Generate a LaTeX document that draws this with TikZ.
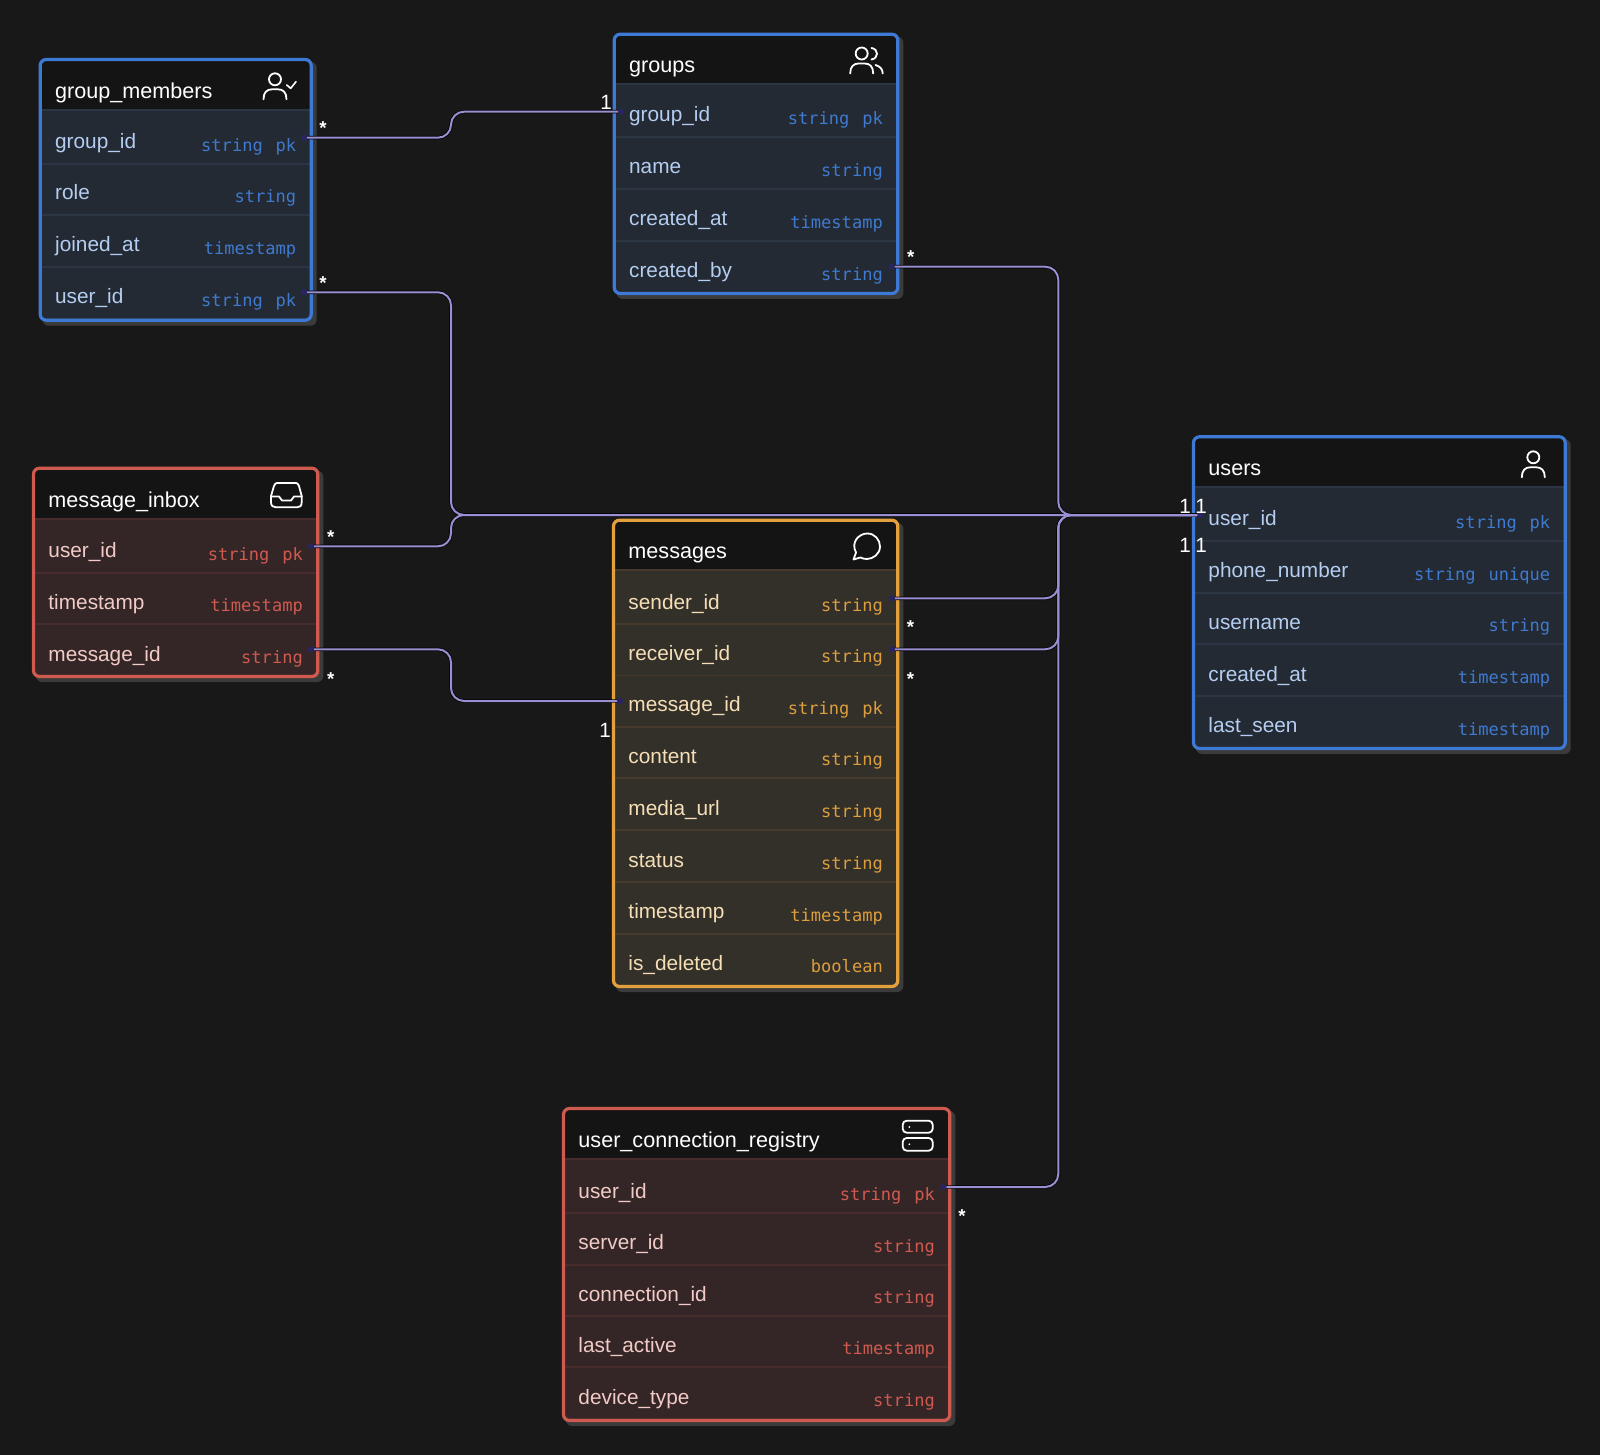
\documentclass[tikz,border=0pt]{standalone}
\usepackage{fontspec}
\setmainfont{Liberation Sans}
\newfontfamily\typefont{DejaVu Sans Mono}
\definecolor{bgc}{HTML}{181818}
\definecolor{hdrc}{HTML}{141414}
\definecolor{shadowc}{HTML}{3B3B3B}
\definecolor{bdrb}{HTML}{3D7AD6}
\definecolor{bodyb}{HTML}{232A33}
\definecolor{lineb}{HTML}{2C3543}
\definecolor{fldb}{HTML}{B4CDF0}
\definecolor{typb}{HTML}{3F7AD0}
\definecolor{bdrr}{HTML}{CF5A50}
\definecolor{bodyr}{HTML}{342626}
\definecolor{liner}{HTML}{472C2C}
\definecolor{fldr}{HTML}{F2CBC6}
\definecolor{typr}{HTML}{D05A50}
\definecolor{bdra}{HTML}{E3A03C}
\definecolor{bodya}{HTML}{33302A}
\definecolor{linea}{HTML}{47392B}
\definecolor{flda}{HTML}{F6DFB6}
\definecolor{typa}{HTML}{DD9E3E}
\definecolor{relc}{HTML}{9B8FD3}
\definecolor{dotc}{HTML}{2A2466}
\tikzset{
  titletxt/.style={anchor=base west,inner sep=0pt,text=white,font=\fontsize{16.2}{19}\selectfont},
  fieldtxt/.style={anchor=base west,inner sep=0pt,font=\fontsize{15.6}{18}\selectfont},
  typetxt/.style={anchor=base east,inner sep=0pt,font=\fontsize{12.8}{15}\typefont},
  ico/.style={draw=white,line width=1.35pt,line cap=round,line join=round},
  port/.style={circle,fill=dotc,inner sep=0pt,minimum size=4.5pt,outer sep=0pt},
  relbase/.style={line width=1.5pt,rounded corners=9.75pt},
  relcase/.style={relbase,draw=black!90!bgc,line width=2.6pt},
  relline/.style={relbase,draw=relc},
  starlbl/.style={inner sep=0pt,text=white,font=\fontsize{14}{16}\bfseries\selectfont},
  onelbl/.style={inner sep=0pt,text=white,font=\fontsize{15.5}{18}\selectfont},
}
% id, x1, x2, ytop, ybot, yhdr, scheme, title, rows
\newcommand\erbox[9]{
  \fill[shadowc,rounded corners=4.5pt] (#2+2.5,#4+2.5) rectangle (#3+5.5,#5+5.5);
  \begin{scope}
    \clip[rounded corners=4.5pt] (#2,#4) rectangle (#3,#5);
    \fill[hdrc] (#2,#4) rectangle (#3,#6);
    \fill[body#7] (#2,#6) rectangle (#3,#5);
    \draw[line#7,line width=1.2pt] (#2,#6) -- (#3,#6);
    \foreach \f/\t/\yb in {#9}{\draw[line#7,line width=1.2pt] (#2,\yb) -- (#3,\yb);}
  \end{scope}
  \node[draw=bdr#7,line width=2.4pt,rounded corners=4.5pt,inner sep=0pt,outer sep=0pt,
        minimum width={(#3-#2)*0.75pt},minimum height={(#5-#4)*0.75pt}]
        (#1) at ({(#2+#3)/2},{(#4+#5)/2}) {};
  \node[titletxt] (#1-title) at (#2+14.7,#6-11.5) {#8};
  \foreach \f/\t/\yb [count=\i] in {#9}{
    \node[fieldtxt,text=fld#7] (#1-f\i) at (#2+14.7,\yb-15) {\f};
    \node[typetxt,text=typ#7] (#1-t\i) at (#3-14.7,\yb-12.4) {\t};
  }
}
\newcommand\personicon[2]{
  \draw[ico] (#1,#2) circle[radius=6];
  \draw[ico] (#1-11.5,#2+20) .. controls (#1-11.5,#2+13) and (#1-8,#2+10) .. (#1-3,#2+10) -- (#1+3,#2+10) .. controls (#1+8,#2+10) and (#1+11.5,#2+13) .. (#1+11.5,#2+20);
}
\newcommand\relpaths[1]{
  \draw[#1] (gmA) -- (busL |- gmA) -- (busL |- ggA) -- (ggA);
  \draw[#1] (gmB) -- (busL |- gmB) -- (busL) -- (uA);
  \draw[#1] (ibA) -- (busL |- ibA) -- (busL) -- (uA);
  \draw[#1] (ibB) -- (busL |- ibB) -- (busL |- mgC) -- (mgC);
  \draw[#1] (ggB) -- (busR |- ggB) -- (busR) -- (uA);
  \draw[#1] (mgA) -- (busR |- mgA) -- (busR) -- (uA);
  \draw[#1] (mgB) -- (busR |- mgB) -- (busR) -- (uA);
  \draw[#1] (rgA) -- (busR |- rgA) -- (busR) -- (uA);
}
\begin{document}
\begin{tikzpicture}[x=0.75pt,y=-0.75pt]
\useasboundingbox (0,0) rectangle (1600,1455);
\fill[bgc] (0,0) rectangle (1600,1455);

\erbox{gm}{40.2}{311.2}{59.5}{320.2}{110}{b}{group\_members}{group\_id/string\hspace{0.15em} pk/164,role/string/215,joined\_at/timestamp/267,user\_id/string\hspace{0.15em} pk/318.7}
\erbox{gg}{614.2}{897.8}{34.2}{293.5}{84}{b}{groups}{group\_id/string\hspace{0.15em} pk/137,name/string/189,created\_at/timestamp/241,created\_by/string/292.7}
\erbox{us}{1193.5}{1565.2}{436.8}{748.5}{487}{b}{users}{user\_id/string\hspace{0.15em} pk/540.7,phone\_number/string\hspace{0.15em} unique/592.7,username/string/644,created\_at/timestamp/696,last\_seen/timestamp/747.7}
\erbox{ib}{33.5}{317.8}{468.2}{676.5}{518.7}{r}{message\_inbox}{user\_id/string\hspace{0.15em} pk/572.7,timestamp/timestamp/624,message\_id/string/676}
\erbox{mg}{613.5}{897.8}{520.2}{986.5}{570}{a}{messages}{sender\_id/string/624,receiver\_id/string/675.3,message\_id/string\hspace{0.15em} pk/726.7,content/string/778,media\_url/string/830,status/string/882,timestamp/timestamp/933.7,is\_deleted/boolean/985.3}
\erbox{rg}{563.5}{949.8}{1108.5}{1420.5}{1159}{r}{user\_connection\_registry}{user\_id/string\hspace{0.15em} pk/1213,server\_id/string/1264.7,connection\_id/string/1316,last\_active/timestamp/1367,device\_type/string/1419}

% icons
\personicon{275}{79.3}
\draw[ico,line width=1.2pt] (286.7,85) -- (290.7,88.3) -- (296,81.7);
\personicon{861.7}{53.5}
\draw[ico] (871.5,48) .. controls (875,48.5) and (877,51) .. (877,53.7) .. controls (877,56.5) and (875,59) .. (871.5,59.5);
\draw[ico] (875.5,65) .. controls (880.5,66.5) and (882.7,69.5) .. (882.7,73.5);
\personicon{1533.3}{457.3}
\draw[ico] (277,483) -- (296,483) .. controls (297.5,483) and (298,484) .. (299,486) -- (301.7,496) -- (301.7,502) .. controls (301.7,506) and (300,507.3) .. (297,507.3) -- (276,507.3) .. controls (273,507.3) and (271,506) .. (271,502) -- (271,496) -- (274,486) .. controls (275,484) and (275.5,483) .. (277,483) -- cycle;
\draw[ico] (271,496.5) -- (279,496.5) -- (282,500.5) -- (291,500.5) -- (294,496.5) -- (301.7,496.5);
\draw[ico] (853.5,559.5) -- (856,552.5) .. controls (850.5,542) and (859,533.5) .. (867.3,533.5) .. controls (875,533.5) and (880,540) .. (880,546.5) .. controls (880,554) and (873,559) .. (867,559) .. controls (864.5,559) and (862.5,558.5) .. (860.5,557.5) -- cycle;
\draw[ico,rounded corners=3pt] (902.7,1120.7) rectangle (932.7,1132.7);
\draw[ico,rounded corners=3pt] (902.7,1138) rectangle (932.7,1150.7);
\fill[white] (909.3,1127) circle[radius=1] (909.3,1144.3) circle[radius=1];

% ports and connectors
\coordinate (busL) at (451,515);
\coordinate (busR) at (1058.3,515);
\node[port] (gmA) at (304,137.7) {};
\node[port] (gmB) at (304,292.3) {};
\node[port] (ggA) at (621,111.7) {};
\node[port] (ggB) at (891.7,266.7) {};
\node[port] (uA) at (1200,515) {};
\node[port] (ibA) at (311,546.3) {};
\node[port] (ibB) at (311,649.3) {};
\node[port] (mgA) at (892,598.3) {};
\node[port] (mgB) at (892,649.3) {};
\node[port] (mgC) at (620,701) {};
\node[port] (rgA) at (943.3,1187) {};
\relpaths{relcase}
\relpaths{relline}

% end labels
\node[starlbl] (s1) at (323,128) {*};
\node[starlbl] (s2) at (323,282.7) {*};
\node[starlbl] (s3) at (910.7,257) {*};
\node[starlbl] (s4) at (330.7,537) {*};
\node[starlbl] (s5) at (330.7,678.7) {*};
\node[starlbl] (s6) at (910.5,627.5) {*};
\node[starlbl] (s7) at (910.5,679.5) {*};
\node[starlbl] (s8) at (962,1216.3) {*};
\node[onelbl] (o1) at (606,102.7) {1};
\node[onelbl] (o2) at (605,730.7) {1};
\node[onelbl] (o3) at (1185,506) {1};
\node[onelbl] (o4) at (1201,506) {1};
\node[onelbl] (o5) at (1185,545) {1};
\node[onelbl] (o6) at (1201,545) {1};
\end{tikzpicture}
\end{document}
